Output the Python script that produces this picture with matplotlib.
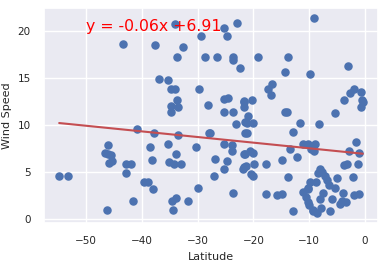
import numpy as np
import matplotlib
matplotlib.use("Agg")
import matplotlib.pyplot as plt
import seaborn as sns

sns.set()

# latitude / wind speed
lat = [-43.3, -37.6, -36.9, -54.8, -53.2, -46.0, -46.6, -46.0, -45.5, -45.3,
       -45.8, -46.2, -42.8, -42.0, -42.8, -40.9, -37.8, -38.5, -38.2, -39.6,
       -38.8, -38.0, -41.6, -34.0, -32.7, -33.7, -35.3, -34.7, -34.0, -33.7,
       -34.7, -33.5, -34.8, -29.4, -28.7, -26.6, -25.2, -24.8, -23.0, -23.7,
       -23.7, -22.4, -29.7, -28.2, -25.3, -24.5, -25.3, -23.6, -21.7, -21.7,
       -33.5, -35.3, -35.1, -33.8, -34.3, -33.0, -30.0, -33.8, -34.6, -31.8,
       -34.4, -30.2, -28.0, -27.7, -25.3, -23.8, -23.9, -26.8, -24.8, -27.1,
       -25.2, -23.7, -23.2, -21.5, -21.5, -21.7, -21.7, -9.2, -19.1, -13.8,
       -14.3, -9.8, -16.7, -17.4, -16.8, -20.3, -21.6, -20.9, -14.4, -13.9,
       -21.2, -20.0, -11.6, -12.9, -21.2, -11.1, -10.2, -9.6, -13.5, -12.2,
       -14.9, -21.5, -20.6, -20.0, -21.3, -21.8, -19.9, -17.7, -20.5, -20.0,
       -13.8, -17.7, -15.7, -14.9, -12.9, -9.8, -11.1, -10.2, -10.6, -10.0,
       -9.4, -3.1, -2.0, -2.7, -0.7, -3.8, -0.5, -0.4, -0.7, -5.3,
       -8.2, -1.6, -9.0, -9.1, -9.6, -2.8, -1.0, -1.2, -3.7, -3.2,
       -2.2, -8.1, -7.7, -8.4, -7.2, -6.9, -6.5, -5.0, -5.3, -8.7,
       -10.3, -7.5, -8.1, -6.0, -4.0, -4.2, -4.5, -3.4, -2.0, -1.1,
       -10.2, -9.3, -8.6, -6.3, -7.9]
wind = [18.6, 18.5, 14.9, 4.6, 4.6, 7.9, 7.0, 6.9, 6.8, 6.2,
        5.9, 0.9, 5.8, 5.8, 4.9, 9.6, 9.1, 7.7, 6.3, 3.9,
        3.9, 3.2, 1.9, 20.7, 18.3, 17.2, 14.8, 13.8, 13.8, 12.7,
        12.0, 11.9, 11.4, 19.5, 17.2, 17.2, 20.3, 19.5, 20.8, 17.2,
        16.9, 16.1, 13.8, 12.1, 12.8, 12.9, 11.4, 11.4, 12.5, 11.9,
        8.9, 8.0, 6.1, 6.9, 5.8, 5.8, 3.3, 2.2, 1.9, 1.9,
        0.9, 7.6, 9.1, 9.1, 8.0, 7.9, 7.2, 6.4, 6.2, 4.6,
        5.3, 2.8, 10.1, 10.3, 9.1, 6.9, 5.5, 21.4, 17.2, 17.2,
        15.6, 15.4, 14.3, 13.8, 13.2, 12.7, 12.4, 10.9, 11.4, 11.4,
        10.2, 10.2, 10.2, 9.2, 9.1, 8.0, 8.0, 7.8, 7.4, 6.6,
        6.3, 6.9, 7.2, 7.0, 5.6, 5.3, 5.8, 5.8, 4.8, 4.6,
        4.5, 2.6, 2.5, 2.6, 0.8, 3.9, 2.9, 3.3, 2.3, 1.5,
        0.8, 16.3, 13.8, 13.4, 13.5, 12.7, 12.6, 12.4, 11.9, 11.3,
        10.1, 8.2, 8.0, 7.2, 7.4, 7.2, 7.0, 5.8, 5.7, 5.8,
        4.5, 5.3, 5.0, 4.9, 4.6, 4.1, 3.6, 4.4, 3.3, 3.9,
        3.2, 2.7, 2.1, 2.1, 2.7, 1.9, 1.6, 1.8, 2.5, 2.6,
        1.8, 0.9, 0.6, 0.8, 1.2]

# regression reported in the reference
slope = -0.06
intercept = 6.91
line_eq = "y = -0.06x +6.91"

fig = plt.figure(figsize=(3.84, 2.65), dpi=100)
ax = fig.add_subplot(111)
fig.subplots_adjust(left=44/384, right=378/384, bottom=1-223/265, top=1-8/265)

ax.scatter(lat, wind, s=26, color="#4C72B0")
x_line = np.array([min(lat), max(lat)])
ax.plot(x_line, slope * x_line + intercept, color="#C44E52")
ax.annotate(line_eq, (-50, 20), fontsize=11.3, color="red")

ax.set_xlabel("Latitude", fontsize=8)
ax.set_ylabel("Wind Speed", fontsize=8)
ax.tick_params(labelsize=7.5)

fig.savefig("out.png", dpi=100)
